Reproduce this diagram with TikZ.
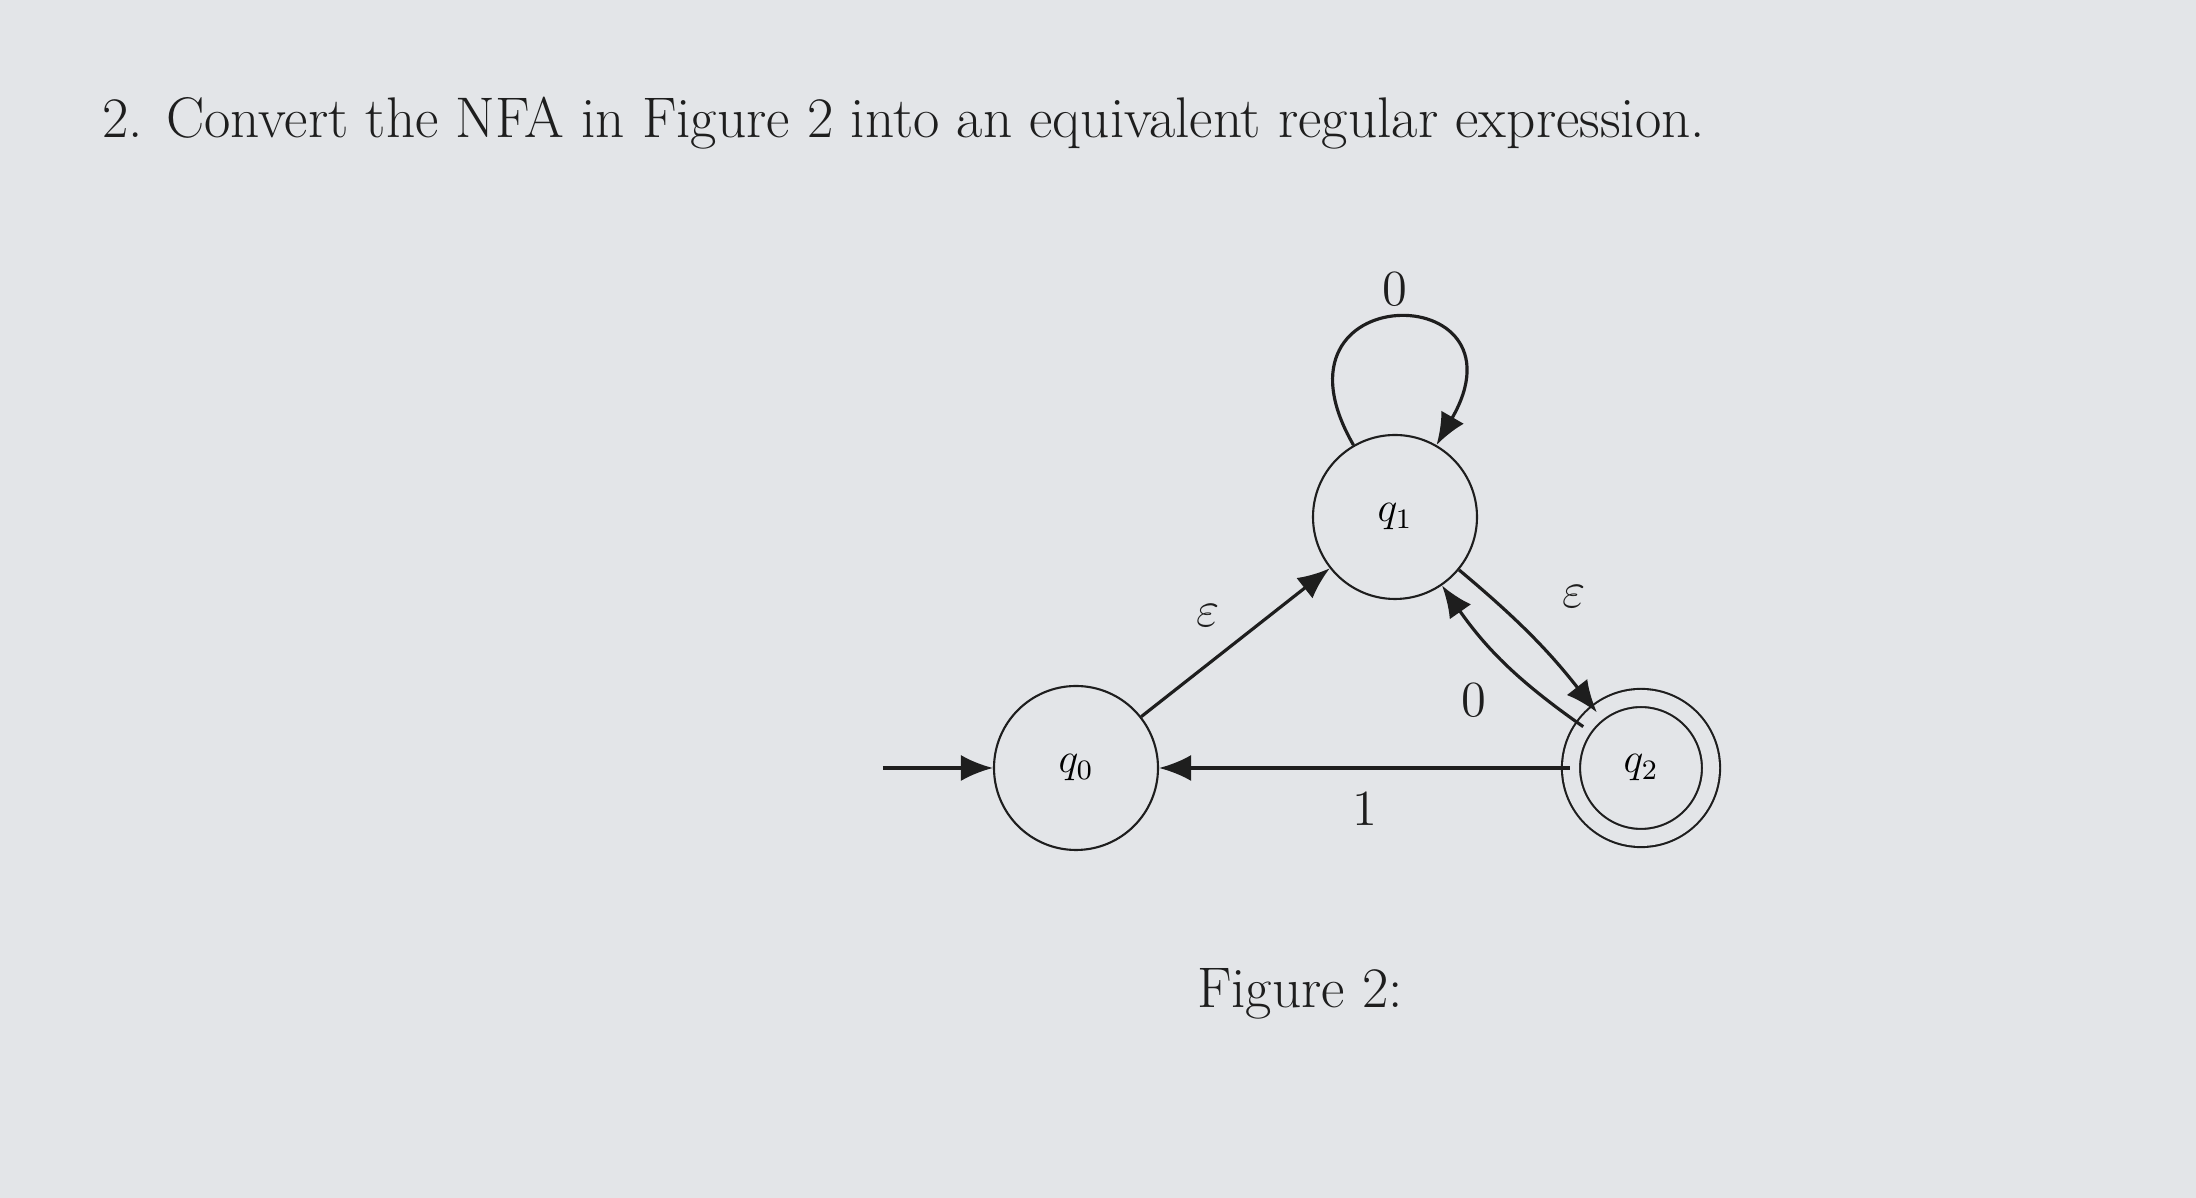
\documentclass[tikz,border=0pt]{standalone}
\usepackage{amsmath,amssymb}
\usepackage{xcolor}
\usetikzlibrary{arrows.meta,positioning}
\definecolor{ink}{HTML}{1E1E1E}
\definecolor{paper}{HTML}{E3E5E8}
\tikzset{
  >=Latex,
  state/.style={circle,draw=ink,line width=0.6pt,minimum size=16.4mm,inner sep=0pt,font=\large},
  accept/.style={state,double=paper,double distance=1.6mm,minimum size=14mm},
  trans/.style={->,line width=0.9pt,draw=ink,>={Latex[length=3.2mm,width=2.6mm]}},
  lbl/.style={font=\Large,text=ink,inner sep=3pt}
}
\begin{document}
\begin{tikzpicture}
  \fill[paper] (0,0) rectangle (21.96,11.98);
  \useasboundingbox (0,0) rectangle (21.96,11.98);

  \node[anchor=base west,font=\fontsize{16.3}{20}\selectfont,text=ink] (task) at (0.90,10.60)
    {2. Convert the NFA in Figure 2 into an equivalent regular expression.};

  \node[state] (q0) at (10.76,4.30) {$q_0$};
  \node[state] (q1) at (13.95,6.81) {$q_1$};
  \node[accept] (q2) at (16.41,4.30) {$q_2$};
  \coordinate[left=1.1cm of q0.west] (start);

  \draw[trans] (start) -- (q0);
  \draw[trans] (q0) -- node[lbl,above left=0.5mm] {$\varepsilon$} (q1);
  \draw[trans] (q1) to[out=120,in=60,looseness=6] node[lbl,above] {0} (q1);
  \draw[trans] (q1) to[bend left=6] node[lbl,above right=2.5mm] {$\varepsilon$} (q2);
  \draw[trans] (q2) to[bend left=10] node[lbl,below left=1mm] {0} (q1);
  \draw[trans] (q2) -- node[lbl,below=1.2mm] {1} (q0);

  \node[font=\fontsize{16.3}{20}\selectfont,text=ink] (caption) at (13.0,2.04) {Figure 2:};
\end{tikzpicture}
\end{document}
